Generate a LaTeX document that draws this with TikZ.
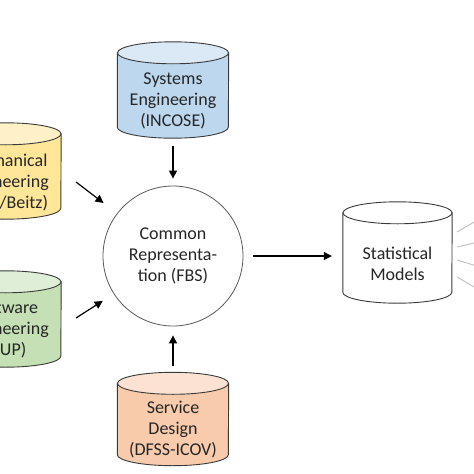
\documentclass[tikz,border=0pt]{standalone}
\usepackage{fontspec}
\setmainfont{Carlito}
\usetikzlibrary{arrows.meta,backgrounds}

\definecolor{cylline}{HTML}{3A3A3A}
\definecolor{txtgrey}{HTML}{262626}
\definecolor{sysblue}{HTML}{BDD7EE}
\definecolor{mechyellow}{HTML}{FFE699}
\definecolor{softgreen}{HTML}{C5E0B4}
\definecolor{servorange}{HTML}{F8CBAD}
\definecolor{fangrey}{HTML}{BFBFBF}

% cylinder drawn behind a named body node: #1 node, #2 fill, #3 x radius
\newcommand{\storecyl}[3]{%
  \begin{scope}[on background layer]
    \filldraw[draw=cylline, line width=0.9pt, fill=#2]
      ([yshift=11pt]#1.north west) -- ([yshift=11pt]#1.south west)
      arc[start angle=180, end angle=360, x radius=#3, y radius=11pt]
      -- ([yshift=11pt]#1.north east) -- cycle;
    \filldraw[draw=cylline, line width=0.9pt, fill=#2!55!white]
      ([yshift=11pt]#1.north) ellipse[x radius=#3, y radius=11pt];
  \end{scope}}

\begin{document}
\begin{tikzpicture}[x=1pt,y=-1pt,
  txt/.style={align=center, text=txtgrey, font=\fontsize{18}{21}\selectfont},
  store/.style={txt, minimum width=111pt, minimum height=74pt, inner sep=0pt},
  hub/.style={txt, circle, draw=cylline!85, line width=0.8pt, minimum size=140pt, inner sep=0pt},
  arr/.style={line width=1.2pt, -{Triangle[length=8pt,width=8pt]}},
  fan/.style={draw=fangrey, line width=0.9pt}]
\clip (0,0) rectangle (474,474);
\begin{scope}[on background layer]
\fill[white] (0,0) rectangle (474,474);
\end{scope}

% stores round the hub
\node[store] (sys) at (173,101) {Systems\\Engineering\\(INCOSE)};
\storecyl{sys}{sysblue}{55.5pt}
\node[store] (mech) at (5.5,182) {Mechanical\\Engineering\\(Pahl/Beitz)};
\storecyl{mech}{mechyellow}{55.5pt}
\node[store] (soft) at (5.5,330) {Software\\Engineering\\(RUP)};
\storecyl{soft}{softgreen}{55.5pt}
\node[store, minimum height=71pt] (serv) at (173,430) {Service\\Design\\(DFSS-ICOV)};
\storecyl{serv}{servorange}{55.5pt}
\node[store, minimum width=109pt, minimum height=79pt] (stat) at (397.5,263.5) {Statistical\\Models};
\storecyl{stat}{white}{54.5pt}

% hub
\node[hub] (fbs) at (173,256) {Common\\Representa-\\tion (FBS)};

\coordinate (mechout) at (76,182);
\coordinate (softout) at (76,318);
\draw[arr, shorten <=8pt, shorten >=7pt] (sys) -- (fbs);
\draw[arr, shorten <=6pt, shorten >=9pt] ([yshift=22pt]serv.north) -- (fbs);
\draw[arr, shorten >=17pt] (mechout) -- (fbs);
\draw[arr, shorten >=13pt] (softout) -- (fbs);
\draw[arr, shorten <=10pt, shorten >=11pt] (fbs.east) -- (fbs.east -| stat.west);

% outgoing links, cut off by the edge
\foreach \ya/\yb [count=\i] in {232/207, 247/237, 260/273, 277/302} {
  \coordinate (fan\i a) at (457,\ya);
  \coordinate (fan\i b) at (500,\yb);
  \draw[fan] (fan\i a) -- (fan\i b);
}
\end{tikzpicture}
\end{document}
